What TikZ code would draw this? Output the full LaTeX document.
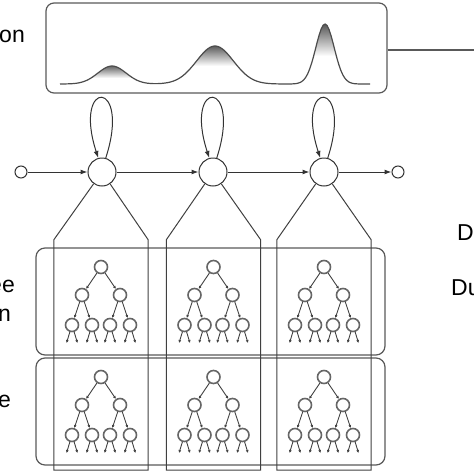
\documentclass[tikz,border=0pt]{standalone}
\usepackage{fontspec}
\setmainfont{Liberation Sans}
\usetikzlibrary{trees,arrows.meta,positioning,calc}

\newcommand{\bintree}[2]{%
  \node[tnode] (#1) at (#2) {}
    child {node[tnode] {}
      child {node[tnode] {} child {coordinate} child {coordinate}}
      child {node[tnode] {} child {coordinate} child {coordinate}}}
    child {node[tnode] {}
      child {node[tnode] {} child {coordinate} child {coordinate}}
      child {node[tnode] {} child {coordinate} child {coordinate}}};
}

\begin{document}
\begin{tikzpicture}[x=1pt, y=-1pt,
            state/.style={draw=black!80, circle, line width=1pt, minimum size=28pt, inner sep=0pt},
            term/.style={draw=black!80, circle, line width=1pt, minimum size=12pt, inner sep=0pt},
            tnode/.style={draw=black!60, circle, line width=1.6pt, minimum size=13pt, inner sep=0pt},
            panel/.style={draw=black!65, rectangle, rounded corners=9pt, line width=1.2pt,
                 minimum width=349pt, minimum height=107pt},
            column/.style={rectangle, minimum width=94pt, minimum height=230pt},
            lab/.style={font=\fontsize{23}{28}\selectfont, inner sep=0pt},
            arr/.style={draw=black!80, line width=1pt, -{Latex[length=7pt,width=5pt]}},
            level 1/.style={level distance=28pt, sibling distance=38pt},
            level 2/.style={level distance=30pt, sibling distance=20pt},
            level 3/.style={level distance=18pt, sibling distance=11pt},
            edge from parent/.style={draw, black!75, line width=0.9pt, -{Latex[length=3pt,width=3pt]}}
            ]
            \useasboundingbox (0,0) rectangle (474,474);

            % Observation panel
            \node[panel, minimum width=341pt, minimum height=90pt, rounded corners=8pt] (obs) at (216.5,48) {};
            \coordinate (rt) at (474,50);
            \draw[black!65, line width=1.2pt] (obs.east |- rt) -- (rt);
            \begin{scope}
              \clip plot[domain=60:370, samples=160] (\x, {84-18*exp(-(((\x-112)/20)^2))-38*exp(-(((\x-215)/26)^2))-60*exp(-(((\x-325)/13)^2))}) -- (370,95) -- (60,95) -- cycle;
              \shade[top color=black!70, bottom color=white] (90,64) rectangle (135,78);
              \shade[top color=black!70, bottom color=white] (185,44) rectangle (245,66);
              \shade[top color=black!70, bottom color=white] (305,22) rectangle (345,56);
            \end{scope}
            \draw[black!70, line width=1.2pt] plot[domain=60:370, samples=160] (\x, {84-18*exp(-(((\x-112)/20)^2))-38*exp(-(((\x-215)/26)^2))-60*exp(-(((\x-325)/13)^2))});

            % Nodes with manual coordinates
            \node[term] (in) at (21,172) {};
            \node[state] (s1) at (102,172) {};
            \node[state] (s2) at (213,172) {};
            \node[state] (s3) at (324,172) {};
            \node[term] (out) at (398,172) {};
            \node[column] (c1) at (101,355) {};
            \node[column] (c2) at (213.5,355) {};
            \node[column] (c3) at (324,355) {};
            \node[panel] (row1) at (210.5,301.5) {};
            \node[panel] (row2) at (210.5,411.5) {};

            % Labels
            \node[lab, anchor=base east] (l1) at (25,42) {on};
            \node[lab, anchor=base east] (l2) at (15,292) {ee};
            \node[lab, anchor=base east] (l3) at (11,321) {n};
            \node[lab, anchor=base east] (l4) at (11,407) {e};
            \node[lab, anchor=base west] (r1) at (457,240) {De};
            \node[lab, anchor=base west] (r2) at (451,295) {Du};

            % Arrows
            \draw[arr] (in) -- (s1);
            \draw[arr] (s1) -- (s2);
            \draw[arr] (s2) -- (s3);
            \draw[arr] (s3) -- (out);
            \draw[arr] (s1.75) .. controls +(26,-80) and +(-26,-80) .. (s1.105);
            \draw[arr] (s2.75) .. controls +(26,-80) and +(-26,-80) .. (s2.105);
            \draw[arr] (s3.75) .. controls +(26,-80) and +(-26,-80) .. (s3.105);

            % Columns
            \draw[black!75, line width=1pt] (s1) -- (c1.north west) -- (c1.south west) -- (c1.south east) -- (c1.north east) -- (s1);
            \draw[black!75, line width=1pt] (s2) -- (c2.north west) -- (c2.south west) -- (c2.south east) -- (c2.north east) -- (s2);
            \draw[black!75, line width=1pt] (s3) -- (c3.north west) -- (c3.south west) -- (c3.south east) -- (c3.north east) -- (s3);

            % Trees
            \bintree{ta}{101,267}
            \bintree{tb}{213.5,267}
            \bintree{tc}{324,267}
            \bintree{td}{101,377}
            \bintree{te}{213.5,377}
            \bintree{tf}{324,377}
        \end{tikzpicture}
\end{document}
